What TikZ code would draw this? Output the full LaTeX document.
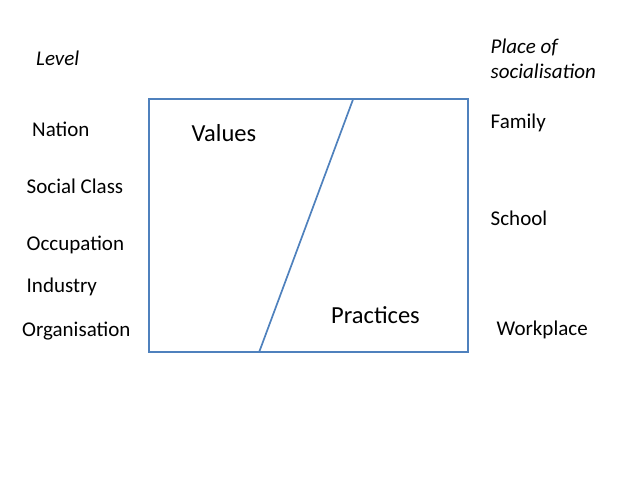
\documentclass[tikz,border=0pt]{standalone}
\usepackage{fontspec}
\setmainfont{Carlito}
\definecolor{boxblue}{HTML}{4F81BD}

\begin{document}
\begin{tikzpicture}[x=1pt, y=-1pt,
	lbl/.style = {anchor = base west, inner sep = 0, font = \fontsize{21}{25}\selectfont},
	head/.style = {lbl, font = \fontsize{21}{25}\selectfont\itshape},
	big/.style = {anchor = base west, inner sep = 0, font = \fontsize{24.5}{29}\selectfont}]
	\useasboundingbox (0,0) rectangle (638,478);
	% levels
	\node[head] (level) at (36,66) {Level};
	\node[lbl] (nation) at (32,136.5) {Nation};
	\node[lbl] (class) at (26.5,193.5) {Social Class};
	\node[lbl] (occupation) at (26.5,250.5) {Occupation};
	\node[lbl] (industry) at (26.5,292.5) {Industry};
	\node[lbl] (organisation) at (22,336.5) {Organisation};
	% places of socialisation
	\node[head] (place) at (490.5,53.5) {Place of};
	\node[head] (social) at (490.5,78.5) {socialisation};
	\node[lbl] (family) at (490.5,129) {Family};
	\node[lbl] (school) at (490.5,225.5) {School};
	\node[lbl] (workplace) at (496.5,335.5) {Workplace};
	% box
	\coordinate (nw) at (149,99.5);
	\coordinate (se) at (468,352.5);
	\coordinate (top) at (353,99.5);
	\coordinate (bot) at (259,352.5);
	\draw[boxblue, line width = 2pt] (nw) rectangle (se);
	\draw[boxblue, line width = 1.7pt] (top) -- (bot);
	\node[big] (values) at (191.5,141.5) {Values};
	\node[big] (practices) at (331,323.5) {Practices};
\end{tikzpicture}
\end{document}
